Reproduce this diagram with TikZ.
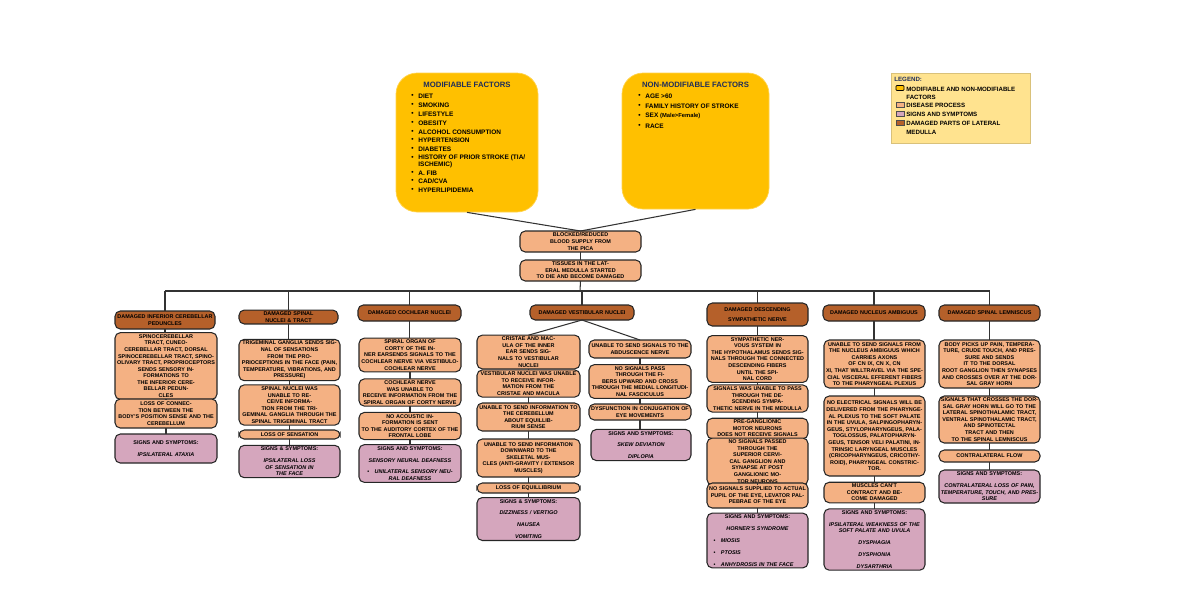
\documentclass[tikz,border=0pt]{standalone}
\usepackage{fontspec}
\setmainfont{Liberation Sans}
\definecolor{peach}{HTML}{F4B183}
\definecolor{brownb}{HTML}{B5602A}
\definecolor{purp}{HTML}{D5A6BD}
\definecolor{yel}{HTML}{FFC000}
\definecolor{legy}{HTML}{FFE38F}
\definecolor{navy}{HTML}{1F2D5A}
\newcommand\fs{\fontsize{3.1}{3.75}\selectfont}
\newcommand\bx[7]{%
  \pgfmathsetlengthmacro\mw{(#5-#3)*0.02cm}%
  \pgfmathsetlengthmacro\mh{(#6-#4)*0.02cm}%
  \pgfmathsetlengthmacro\tw{(#5-#3)*0.02cm-2pt}%
  \node[#2, minimum width=\mw, minimum height=\mh, text width=\tw] (#1) at ({(#3+#5)/2},{(#4+#6)/2}) {#7};}
\tikzset{
  base/.style={draw=black!85, line width=0.6pt, rounded corners=3pt, inner sep=1pt, outer sep=0pt, align=center, font=\fs\bfseries},
  proc/.style={base, fill=peach},
  dmg/.style={base, fill=brownb},
  sym/.style={base, fill=purp},
  fac/.style={draw=yel!70!white, line width=0.4pt, fill=yel, rounded corners=12pt},
  conn/.style={draw=black!80, line width=0.6pt},
  item/.style={anchor=west, inner sep=0pt, font=\fontsize{3.7}{4.2}\selectfont\bfseries},
  leg/.style={anchor=west, inner sep=0pt, font=\fontsize{3.5}{4.2}\selectfont\bfseries}
}
\begin{document}
\begin{tikzpicture}[x=0.02cm,y=-0.02cm]
\useasboundingbox (0,0) rectangle (1200,600);
% top factor boxes
\node[fac, minimum width=142*0.02cm, minimum height=139*0.02cm] (mod) at (467,142.5) {};
\node[fac, minimum width=147*0.02cm, minimum height=136*0.02cm] (nonmod) at (695.5,141) {};
\node[inner sep=0pt, font=\fontsize{4.4}{5}\selectfont\bfseries, text=navy] (modt) at (467,85) {MODIFIABLE FACTORS};
\node[inner sep=0pt, font=\fontsize{4.4}{5}\selectfont\bfseries, text=navy] (nonmodt) at (695.5,85) {NON-MODIFIABLE FACTORS};
\foreach \t/\y [count=\i] in {DIET/96, SMOKING/105, LIFESTYLE/114, OBESITY/123, ALCOHOL CONSUMPTION/132, HYPERTENSION/140, DIABETES/149, {HISTORY OF PRIOR STROKE (TIA/}/158, A. FIB/173, {CAD/CVA}/181, HYPERLIPIDEMIA/190}{
  \node[item] (mb\i) at (411,\y) {\textbullet};
  \node[item] (mi\i) at (418,\y) {\t};
}
\node[item] (mi12) at (418,165) {ISCHEMIC)};
\foreach \t/\y [count=\i] in {AGE >60/96, FAMILY HISTORY OF STROKE/106, {SEX {\fontsize{3.3}{4}\selectfont(Male>Female)}}/116, RACE/126}{
  \node[item] (nb\i) at (638,\y) {\textbullet};
  \node[item] (ni\i) at (645,\y) {\t};
}
% legend
\node[draw=legy!85!black, fill=legy, minimum width=139*0.02cm, minimum height=70*0.02cm, inner sep=0pt] (legend) at (960.5,108) {};
\node[leg, text=navy] (legt) at (894,79) {LEGEND:};
\node[draw=black, fill=yel, minimum width=8*0.02cm, minimum height=5*0.02cm, inner sep=0pt, rounded corners=0.5pt] (l1) at (900,88) {};
\node[draw=black!70, fill=peach, minimum width=8*0.02cm, minimum height=5*0.02cm, inner sep=0pt] (l2) at (900,105) {};
\node[draw=black!70, fill=purp, minimum width=8*0.02cm, minimum height=5*0.02cm, inner sep=0pt] (l3) at (900,114) {};
\node[draw=black!70, fill=brownb, minimum width=8*0.02cm, minimum height=5*0.02cm, inner sep=0pt] (l4) at (900,123) {};
\node[leg] (lt1) at (906,89) {MODIFIABLE AND NON-MODIFIABLE};
\node[leg] (lt1b) at (906,97) {FACTORS};
\node[leg] (lt2) at (906,105) {DISEASE PROCESS};
\node[leg] (lt3) at (906,114) {SIGNS AND SYMPTOMS};
\node[leg] (lt4) at (906,123) {DAMAGED PARTS OF LATERAL};
\node[leg] (lt4b) at (906,132) {MEDULLA};
% central chain
\bx{blocked}{proc}{520}{231}{641}{252}{BLOCKED/REDUCED BLOOD SUPPLY FROM\\THE PICA}
\bx{tissues}{proc}{520}{260}{641}{281}{TISSUES IN THE LATERAL MEDULLA STARTED\\TO DIE AND BECOME DAMAGED}
\draw[conn] (mod.south) -- (blocked.north);
\draw[conn] (nonmod.south) -- (blocked.north);
\draw[conn] (blocked) -- (tissues);
% headers
\bx{h1}{dmg}{115}{311}{215}{329}{DAMAGED INFERIOR CEREBELLAR\\PEDUNCLES}
\bx{h2}{dmg}{239}{312}{338}{322}{DAMAGED SPINAL NUCLEI \& TRACT}
\bx{h3}{dmg}{358}{305}{461}{321}{DAMAGED COCHLEAR NUCLEI}
\bx{h4}{dmg}{530}{305}{634}{320}{DAMAGED VESTIBULAR NUCLEI}
\bx{h5}{dmg}{707}{303}{808}{326}{DAMAGED DESCENDING\\[2pt]SYMPATHETIC NERVE}
\bx{h6}{dmg}{823}{305}{925}{321}{DAMAGED NUCLEUS AMBIGUUS}
\bx{h7}{dmg}{939}{305}{1040}{321}{DAMAGED SPINAL LEMNISCUS}
\coordinate (bus) at (580,291);
\draw[conn] (tissues.south) -- (bus);
\draw[conn] (h1.north |- bus) -- (h7.north |- bus);
\foreach \h in {h1,h2,h3,h4,h5,h6,h7} \draw[conn] (\h.north |- bus) -- (\h.north);
% column 1
\bx{a11}{proc}{115}{340}{217}{392}{SPINOCEREBELLAR TRACT, CUNEO-\\CEREBELLAR TRACT, DORSAL\\SPINOCEREBELLAR TRACT, SPINO-\\OLIVARY TRACT, PROPRIOCEPTORS\\SENDS SENSORY INFORMATIONS TO\\THE INFERIOR CEREBELLAR PEDUN-\\CLES}
\bx{a12}{proc}{115}{399}{217}{428}{LOSS OF CONNECTION BETWEEN THE\\BODY'S POSITION SENSE AND THE\\CEREBELLUM}
\bx{s1}{sym}{115}{434}{217}{463}{SIGNS AND SYMPTOMS:\\[3pt]\textit{IPSILATERAL ATAXIA}\\[5pt]}
% column 2
\bx{a21}{proc}{239}{340}{340}{380}{TRIGEMINAL GANGLIA SENDS SIG-\\NAL OF SENSATIONS FROM THE PRO-\\PRIOCEPTIONS IN THE FACE (PAIN,\\TEMPERATURE, VIBRATIONS, AND\\PRESSURE)}
\bx{a22}{proc}{239}{388}{340}{422}{SPINAL NUCLEI WAS UNABLE TO RE-\\CEIVE INFORMATION FROM THE TRI-\\GEMINAL GANGLIA THROUGH THE\\SPINAL TRIGEMINAL TRACT}
\bx{a23}{proc}{239}{430}{340}{439}{LOSS OF SENSATION}
\bx{s2}{sym}{239}{448}{340}{475}{SIGNS \& SYMPTOMS:\\[3pt]\textit{IPSILATERAL LOSS OF SENSATION IN}\\\textit{THE FACE}}
% column 3
\bx{a31}{proc}{359}{339}{461}{371}{SPIRAL ORGAN OF CORTY OF THE IN-\\NER EARSENDS SIGNALS TO THE\\COCHLEAR NERVE VIA VESTIBULO-\\COCHLEAR NERVE}
\bx{a32}{proc}{359}{379}{461}{406}{COCHLEAR NERVE WAS UNABLE TO\\RECEIVE INFORMATION FROM THE\\SPIRAL ORGAN OF CORTY NERVE}
\bx{a33}{proc}{359}{414}{461}{438}{NO ACOUSTIC INFORMATION IS SENT\\TO THE AUDITORY CORTEX OF THE\\FRONTAL LOBE}
\bx{s3}{sym}{359}{445}{461}{482}{SIGNS AND SYMPTOMS:\\[3pt]\textit{SENSORY NEURAL DEAFNESS}\\[3pt]\textbullet\ \ \ \textit{UNILATERAL SENSORY NEU-}\\\textit{RAL DEAFNESS}}
% column 4
\bx{a41}{proc}{477}{339}{580}{365}{CRISTAE AND MACULA OF THE INNER\\EAR SENDS SIGNALS TO VESTIBULAR\\NUCLEI}
\bx{a42}{proc}{477}{370}{580}{397}{VESTIBULAR NUCLEI WAS UNABLE\\TO RECEIVE INFORMATION FROM THE\\CRISTAE AND MACULA}
\bx{a43}{proc}{477}{403}{580}{431}{UNABLE TO SEND INFORMATION TO\\THE CEREBELLUM ABOUT EQUILLIB-\\RIUM SENSE}
\bx{a44}{proc}{477}{439}{580}{477}{UNABLE TO SEND INFORMATION\\DOWNWARD TO THE SKELETAL MUS-\\CLES (ANTI-GRAVITY / EXTENSOR\\MUSCLES)}
\bx{a45}{proc}{477}{483}{580}{493}{LOSS OF EQUILLIBRIUM}
\bx{s4}{sym}{477}{499}{580}{539}{SIGNS \& SYMPTOMS:\\[3pt]\textit{DIZZINESS / VERTIGO}\\[3pt]\textit{NAUSEA}\\[3pt]\textit{VOMITING}}
\bx{b41}{proc}{589}{340}{691}{358}{UNABLE TO SEND SIGNALS TO THE\\ABDUSCENCE NERVE}
\bx{b42}{proc}{589}{366}{691}{397}{NO SIGNALS PASS THROUGH THE FI-\\BERS UPWARD AND CROSS\\THROUGH THE MEDIAL LONGITUDI-\\NAL FASCICULUS}
\bx{b43}{proc}{589}{404}{691}{420}{DYSFUNCTION IN CONJUGATION OF\\EYE MOVEMENTS}
\bx{t4}{sym}{591}{430}{691}{460}{SIGNS AND SYMPTOMS:\\[3pt]\textit{SKEW DEVIATION}\\[3pt]\textit{DIPLOPIA}\\[4pt]}
% column 5
\bx{a51}{proc}{707}{339}{808}{379}{SYMPATHETIC NERVOUS SYSTEM IN\\THE HYPOTHALAMUS SENDS SIG-\\NALS THROUGH THE CONNECTED\\DESCENDING FIBERS UNTIL THE SPI-\\NAL CORD}
\bx{a52}{proc}{707}{386}{808}{411}{SIGNALS WAS UNABLE TO PASS\\THROUGH THE DESCENDING SYMPA-\\THETIC NERVE IN THE MEDULLA}
\bx{a53}{proc}{707}{419}{808}{438}{PRE-GANGLIONIC MOTOR NEURONS\\DOES NOT RECEIVE SIGNALS}
\bx{a54}{proc}{707}{446}{808}{477}{NO SIGNALS PASSED THROUGH THE\\SUPERIOR CERVICAL GANGLION AND\\SYNAPSE AT POST GANGLIONIC MO-\\TOR NEURONS}
\bx{a55}{proc}{707}{483}{808}{508}{NO SIGNALS SUPPLIED TO ACTUAL\\PUPIL OF THE EYE, LEVATOR PAL-\\PEBRAE OF THE EYE}
\bx{s5}{sym}{707}{515}{808}{566}{SIGNS AND SYMPTOMS:\\[3pt]\textit{HORNER'S SYNDROME}\\[3pt]\makebox[50pt][l]{\textbullet\ \ \ \textit{MIOSIS}}\\[3pt]\makebox[50pt][l]{\textbullet\ \ \ \textit{PTOSIS}}\\[3pt]\makebox[50pt][l]{\textbullet\ \ \ \textit{ANHYDROSIS IN THE FACE}}}
% column 6
\bx{a61}{proc}{824}{340}{925}{388}{UNABLE TO SEND SIGNALS FROM\\THE NUCLEUS AMBIGUUS WHICH\\CARRIES AXONS OF CN IX, CN X, CN\\XI, THAT WILLTRAVEL VIA THE SPE-\\CIAL VISCERAL EFFERENT FIBERS\\TO THE PHARYNGEAL PLEXUS}
\bx{a62}{proc}{824}{396}{925}{476}{NO ELECTRICAL SIGNALS WILL BE\\DELIVERED FROM THE PHARYNGE-\\AL PLEXUS TO THE SOFT PALATE\\IN THE UVULA, SALPINGOPHARYN-\\GEUS, STYLOPHARYNGEUS, PALA-\\TOGLOSSUS, PALATOPHARYN-\\GEUS, TENSOR VELI PALATINI, IN-\\TRINSIC LARYNGEAL MUSCLES\\(CRICOPHARYNGEUS, CRICOTHY-\\ROID), PHARYNGEAL CONSTRIC-\\TOR.}
\bx{a63}{proc}{824}{483}{925}{502}{MUSCLES CAN'T CONTRACT AND BE-\\COME DAMAGED}
\bx{s6}{sym}{824}{510}{925}{569}{SIGNS AND SYMPTOMS:\\[3pt]\textit{IPSILATERAL WEAKNESS OF THE}\\\textit{SOFT PALATE AND UVULA}\\[3pt]\textit{DYSPHAGIA}\\[3pt]\textit{DYSPHONIA}\\[3pt]\textit{DYSARTHRIA}}
% column 7
\bx{a71}{proc}{939}{340}{1040}{388}{BODY PICKS UP PAIN, TEMPERA-\\TURE, CRUDE TOUCH, AND PRES-\\SURE AND SENDS IT TO THE DORSAL\\ROOT GANGLION THEN SYNAPSES\\AND CROSSES OVER AT THE DOR-\\SAL GRAY HORN}
\bx{a72}{proc}{939}{396}{1040}{443}{SIGNALS THAT CROSSES THE DOR-\\SAL GRAY HORN WILL GO TO THE\\LATERAL SPINOTHALAMIC TRACT,\\VENTRAL SPINOTHALAMIC TRACT,\\AND SPINOTECTAL TRACT AND THEN\\TO THE SPINAL LEMNISCUS}
\bx{a73}{proc}{939}{450}{1040}{462}{CONTRALATERAL FLOW}
\bx{s7}{sym}{939}{470}{1040}{503}{SIGNS AND SYMPTOMS:\\[3pt]\textit{CONTRALATERAL LOSS OF PAIN,}\\\textit{TEMPERATURE, TOUCH, AND PRES-}\\\textit{SURE}}
% connectors
\foreach \a/\b in {h1/a11,a11/a12,a12/s1, h2/a21,a21/a22,a22/a23,a23/s2, h3/a31,a31/a32,a32/a33,a33/s3,
  a41/a42,a42/a43,a43/a44,a44/a45,a45/s4, b41/b42,b42/b43,b43/t4,
  h5/a51,a51/a52,a52/a53,a53/a54,a54/a55,a55/s5, h6/a61,a61/a62,a62/a63,a63/s6, h7/a71,a71/a72,a72/a73,a73/s7}
  \draw[conn] (\a.south) -- (\a.south |- \b.north);
\draw[conn] (h4.south) -- (a41.north);
\draw[conn] (h4.south) -- (b41.north);
\end{tikzpicture}
\end{document}
